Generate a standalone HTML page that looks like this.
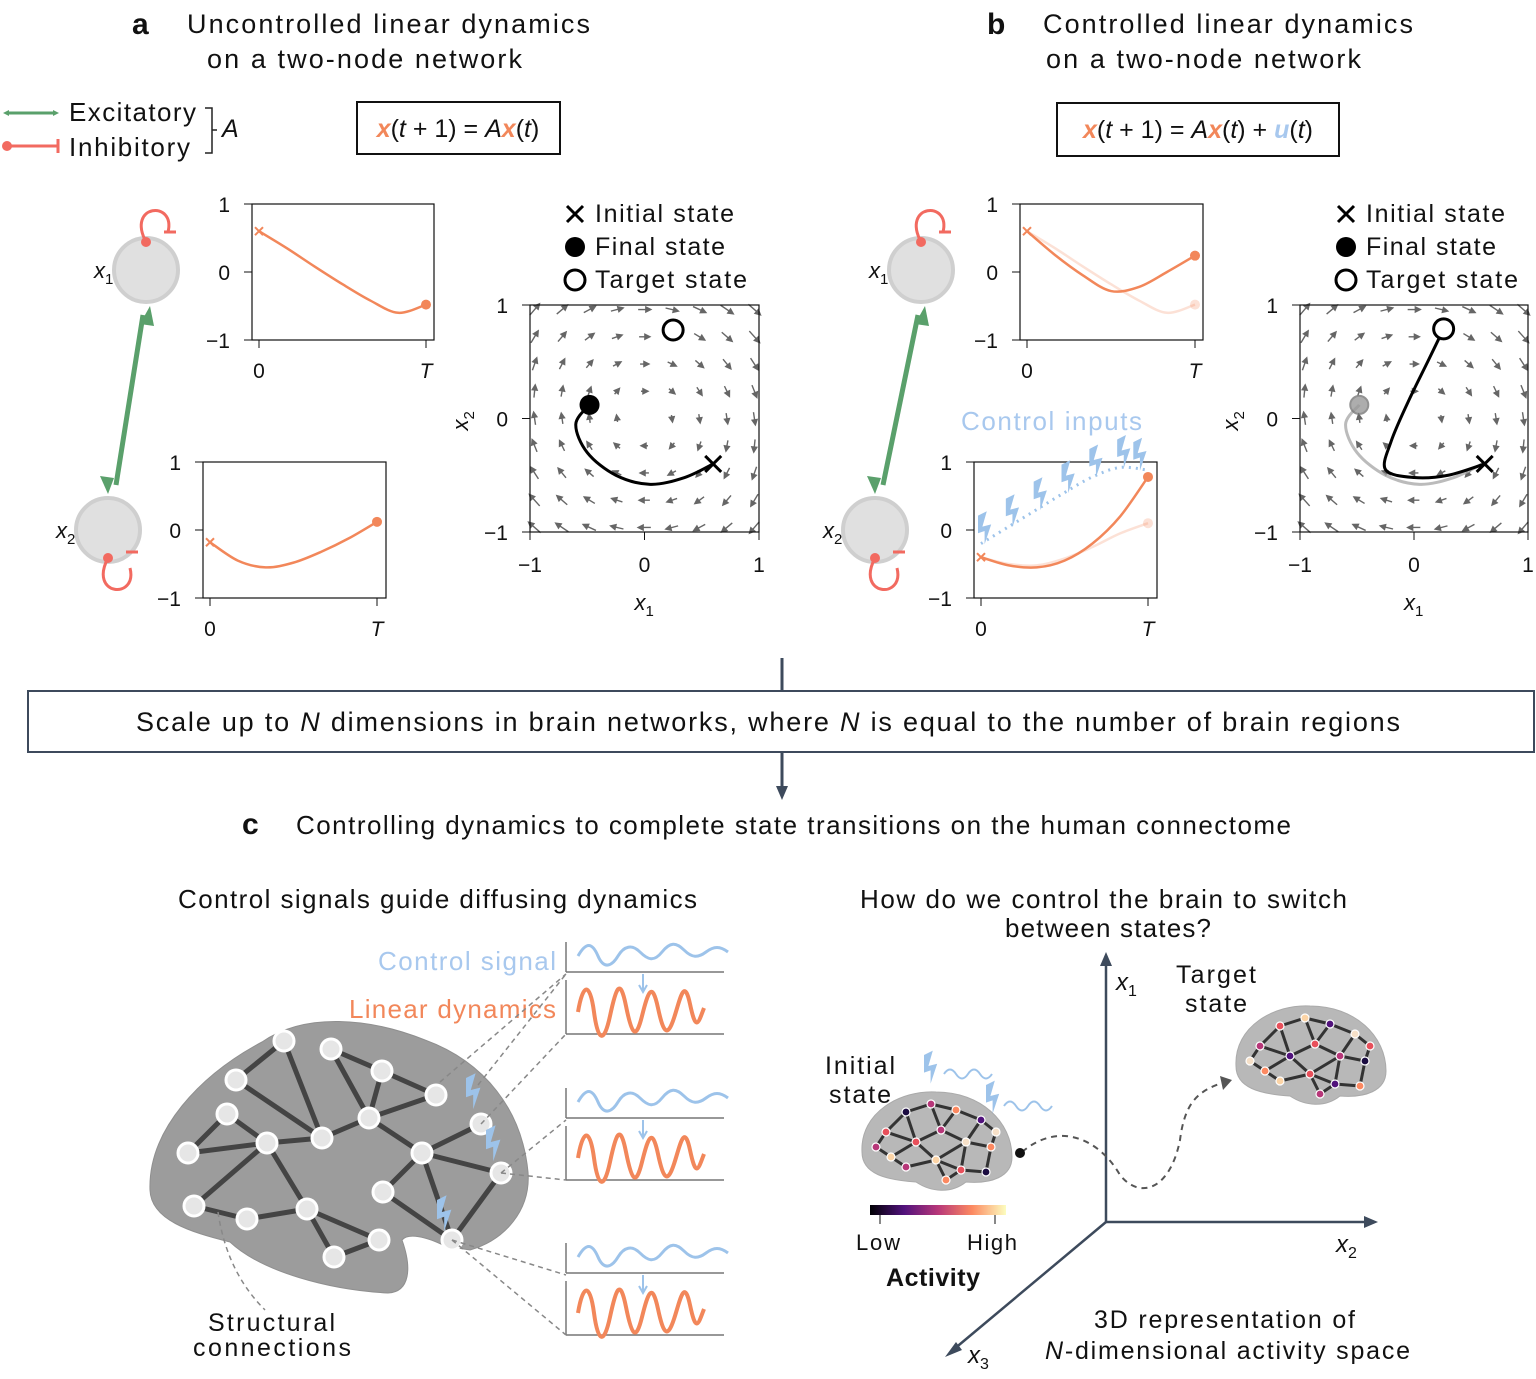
<!DOCTYPE html>
<html><head><meta charset="utf-8"><style>
html,body{margin:0;padding:0;background:#fff}
svg{display:block}
text{font-family:"Liberation Sans",sans-serif;fill:#111}
</style></head><body>
<svg id="fig" width="1536" height="1379" viewBox="0 0 1536 1379" xmlns="http://www.w3.org/2000/svg">
<defs>
<marker id="gh" markerWidth="6" markerHeight="6" refX="3" refY="3" orient="auto-start-reverse" markerUnits="userSpaceOnUse"><path d="M0,0 L6,3 L0,6 Z" fill="#5aa06b"/></marker>
<linearGradient id="magma" x1="0" x2="1"><stop offset="0" stop-color="#000004"/><stop offset="0.25" stop-color="#51127c"/><stop offset="0.5" stop-color="#b73779"/><stop offset="0.75" stop-color="#fc8961"/><stop offset="1" stop-color="#fcfdbf"/></linearGradient>
</defs>

<!-- Panel a header -->
<text x="132" y="34" font-size="30" font-weight="bold">a</text>
<text x="187" y="33" font-size="27" textLength="403">Uncontrolled linear dynamics</text>
<text x="207" y="68" font-size="27" textLength="315">on a two-node network</text>
<g>
<line x1="6" y1="113" x2="56" y2="113" stroke="#5aa06b" stroke-width="3" marker-start="url(#gh)" marker-end="url(#gh)"/>
<text x="69" y="121" font-size="26" textLength="127">Excitatory</text></g>
<g>
<line x1="6" y1="146" x2="58" y2="146" stroke="#f26a60" stroke-width="3"/><circle cx="7" cy="146" r="5" fill="#f26a60"/><line x1="58" y1="139" x2="58" y2="153" stroke="#f26a60" stroke-width="3"/>
<text x="69" y="156" font-size="26" textLength="121">Inhibitory</text></g>
<path d="M205,108 L212,108 L212,153 L205,153 M212,130 L217,130" stroke="#222" stroke-width="1.5" fill="none"/>
<text x="222" y="137" font-size="25" font-style="italic">A</text>
<g><rect x="357" y="102" width="203" height="52" fill="none" stroke="#111" stroke-width="2"/>
<text x="458" y="137" font-size="25" text-anchor="middle"><tspan fill="#f2875a" font-weight="bold" font-style="italic">x</tspan>(<tspan font-style="italic">t</tspan> + 1) = <tspan font-style="italic">A</tspan><tspan fill="#f2875a" font-weight="bold" font-style="italic">x</tspan>(<tspan font-style="italic">t</tspan>)</text></g>

<!-- Panel b header -->
<text x="987" y="34" font-size="30" font-weight="bold">b</text>
<text x="1043" y="33" font-size="27" textLength="370">Controlled linear dynamics</text>
<text x="1046" y="68" font-size="27" textLength="315">on a two-node network</text>
<g><rect x="1057" y="103" width="282" height="53" fill="none" stroke="#111" stroke-width="2"/>
<text x="1198" y="138" font-size="25" text-anchor="middle"><tspan fill="#f2875a" font-weight="bold" font-style="italic">x</tspan>(<tspan font-style="italic">t</tspan> + 1) = <tspan font-style="italic">A</tspan><tspan fill="#f2875a" font-weight="bold" font-style="italic">x</tspan>(<tspan font-style="italic">t</tspan>) + <tspan fill="#a8c8ee" font-weight="bold" font-style="italic">u</tspan>(<tspan font-style="italic">t</tspan>)</text></g>

<g id="nets"></g>
<g id="plots"></g>

<text x="961" y="430" font-size="26" textLength="181" style="fill:#a8c8ee">Control inputs</text>

<!-- Middle -->
<line x1="782" y1="658" x2="782" y2="691" stroke="#3d4a5c" stroke-width="3"/>
<g><rect x="28" y="691" width="1506" height="61" fill="none" stroke="#3d4a5c" stroke-width="2"/>
<text x="136" y="731" font-size="27" textLength="1264">Scale up to <tspan font-style="italic">N</tspan> dimensions in brain networks, where <tspan font-style="italic">N</tspan> is equal to the number of brain regions</text></g>
<line x1="782" y1="752" x2="782" y2="790" stroke="#3d4a5c" stroke-width="3"/>
<path d="M776,786 L782,800 L788,786 Z" fill="#3d4a5c"/>
<text x="242" y="834" font-size="30" font-weight="bold">c</text>
<text x="296" y="834" font-size="26" textLength="995">Controlling dynamics to complete state transitions on the human connectome</text>

<!-- Panel c left -->
<text x="178" y="908" font-size="26" textLength="519">Control signals guide diffusing dynamics</text>
<text x="378" y="970" font-size="26" textLength="178" style="fill:#a8c8ee">Control signal</text>
<text x="349" y="1018" font-size="26" textLength="207" style="fill:#f2875a">Linear dynamics</text>
<g id="brainL">
<path d="M150,1190 C148,1130 200,1075 262,1042 C305,1012 370,1018 425,1040 C485,1062 522,1110 528,1172 C531,1210 505,1240 470,1250 L445,1246 C425,1236 408,1233 402,1240 C412,1268 410,1292 388,1293 C330,1290 262,1272 230,1242 C190,1232 151,1220 150,1190 Z" fill="#9c9c9c" stroke="#8f8f8f"/>
</g>
<g id="signals"></g>
<text x="208" y="1331" font-size="25" textLength="127">Structural</text>
<text x="193" y="1356" font-size="25" textLength="158">connections</text>
<path d="M218,1212 C225,1260 245,1290 265,1310" stroke="#888" stroke-width="1.5" stroke-dasharray="5,4" fill="none"/>

<!-- Panel c right -->
<text x="860" y="908" font-size="26" textLength="487">How do we control the brain to switch</text>
<text x="1005" y="937" font-size="26" textLength="206">between states?</text>
<g stroke="#3d4a5c" stroke-width="2.5" fill="#3d4a5c">
<line x1="1106" y1="1222" x2="1106" y2="962"/><path d="M1100,966 L1106,952 L1112,966 Z" stroke="none"/>
<line x1="1106" y1="1222" x2="1368" y2="1222"/><path d="M1364,1216 L1378,1222 L1364,1228 Z" stroke="none"/>
<line x1="1106" y1="1222" x2="953" y2="1350"/><path d="M956,1342 L945,1357 L962,1350 Z" stroke="none"/>
</g>
<text x="1116" y="990" font-size="24" font-style="italic">x<tspan font-size="16" dy="6" font-style="normal">1</tspan></text>
<text x="1336" y="1252" font-size="24" font-style="italic">x<tspan font-size="16" dy="6" font-style="normal">2</tspan></text>
<text x="968" y="1363" font-size="24" font-style="italic">x<tspan font-size="16" dy="6" font-style="normal">3</tspan></text>
<text x="1216" y="983" font-size="25" text-anchor="middle" textLength="80">Target</text>
<text x="1216" y="1012" font-size="25" text-anchor="middle" textLength="62">state</text>
<text x="860" y="1074" font-size="25" text-anchor="middle" textLength="70">Initial</text>
<text x="860" y="1103" font-size="25" text-anchor="middle" textLength="62">state</text>
<path d="M1022,1152 C1060,1120 1100,1140 1120,1175 C1140,1200 1170,1190 1180,1140 C1185,1100 1200,1090 1225,1082" stroke="#555" stroke-width="2" stroke-dasharray="6,5" fill="none"/>
<path d="M1220,1076 L1232,1080 L1223,1090 Z" fill="#555"/>
<circle cx="1020" cy="1153" r="5" fill="#111"/>
<g id="brainsR"></g>
<g>
<rect x="870" y="1205" width="136" height="10" fill="url(#magma)"/>
<line x1="880" y1="1215" x2="880" y2="1224" stroke="#111"/><line x1="995" y1="1215" x2="995" y2="1224" stroke="#111"/>
<text x="878" y="1250" font-size="22" text-anchor="middle" textLength="44">Low</text>
<text x="992" y="1250" font-size="22" text-anchor="middle" textLength="50">High</text>
<text x="886" y="1286" font-size="25" font-weight="bold" textLength="94">Activity</text></g>
<text x="1094" y="1328" font-size="25" textLength="261">3D representation of</text>
<text x="1045" y="1359" font-size="25" textLength="365"><tspan font-style="italic">N</tspan>-dimensional activity space</text>
</svg>
<script>
// ---- data ----
const tSamples = [0, 1/6, 2/6, 3/6, 4/6, 5/6, 1];
const a_x1 = [0.6, 0.35, 0.08, -0.18, -0.42, -0.6, -0.48];
const a_x2 = [-0.18, -0.45, -0.55, -0.48, -0.32, -0.12, 0.12];
const b_x1 = [0.6, 0.25, -0.05, -0.28, -0.22, 0.0, 0.24];
const b_x2 = [-0.4, -0.52, -0.55, -0.45, -0.2, 0.2, 0.78];
const b_x2_uncontrolled = [-0.4, -0.5, -0.52, -0.42, -0.25, -0.05, 0.1];
const b_control = [-0.2, 0.05, 0.3, 0.55, 0.78, 0.92, 0.88];
const yTicks = [1, 0, -1];
const yTickLabels = ['1', '0', '\u22121'];
const phaseTicks = [-1, 0, 1];
const phaseTickLabels = ['\u22121', '0', '1'];
const trajA_x1 = [0.6, 0.35, 0.05, -0.25, -0.5, -0.6, -0.48];
const trajA_x2 = [-0.4, -0.52, -0.58, -0.5, -0.3, -0.05, 0.12];
const trajB_x1 = [0.62, 0.3, 0.0, -0.25, -0.2, -0.05, 0.12, 0.26];
const trajB_x2 = [-0.4, -0.5, -0.52, -0.45, -0.2, 0.15, 0.5, 0.79];
const targetA = [0.25, 0.78];
const targetB = [0.26, 0.79];

const NS = 'http://www.w3.org/2000/svg';
function mk(tag, attrs, parent) { const e = document.createElementNS(NS, tag); for (const k in attrs) e.setAttribute(k, attrs[k]); parent.appendChild(e); return e; }
function smooth(pts) {
  let d = 'M' + pts[0][0] + ',' + pts[0][1];
  for (let i = 0; i < pts.length - 1; i++) {
    const p0 = pts[Math.max(i - 1, 0)], p1 = pts[i], p2 = pts[i + 1], p3 = pts[Math.min(i + 2, pts.length - 1)];
    d += ' C' + (p1[0] + (p2[0] - p0[0]) / 6) + ',' + (p1[1] + (p2[1] - p0[1]) / 6) + ' ' + (p2[0] - (p3[0] - p1[0]) / 6) + ',' + (p2[1] - (p3[1] - p1[1]) / 6) + ' ' + p2[0] + ',' + p2[1];
  }
  return d;
}
const plots = document.getElementById('plots');

function timePlot(name, bx, by, bw, bh, x0, xT, series) {
  const g = mk('g', {}, plots);
  
  
  const ys = v => by + bh / 2 - v * bh / 2;
  const xs = t => x0 + t * (xT - x0);
  mk('rect', { x: bx, y: by, width: bw, height: bh, fill: 'none', stroke: '#111', 'stroke-width': 1.2 }, g);
  yTicks.forEach((v, i) => {
    mk('line', { x1: bx - 8, x2: bx, y1: ys(v), y2: ys(v), stroke: '#111' }, g);
    const t = mk('text', { x: bx - 22, y: ys(v) + 8, 'font-size': 21, 'text-anchor': 'end' }, g); t.textContent = yTickLabels[i];
  });
  [[0, '0', 'normal'], [1, 'T', 'italic']].forEach(([tv, lab, st]) => {
    mk('line', { x1: xs(tv), x2: xs(tv), y1: by + bh, y2: by + bh + 8, stroke: '#111' }, g);
    const t = mk('text', { x: xs(tv), y: by + bh + 38, 'font-size': 21, 'text-anchor': 'middle', 'font-style': st }, g); t.textContent = lab;
  });
  series.forEach(s => {
    const pts = tSamples.map((t, i) => [xs(t), ys(s.vals[i])]);
    const p = mk('path', { d: smooth(pts), fill: 'none', stroke: s.color, 'stroke-width': s.w || 2.5, opacity: s.op || 1 }, g);
    if (s.dash) p.setAttribute('stroke-dasharray', s.dash);
    
    
    if (s.marks) {
      const [sx, sy] = pts[0], [ex, ey] = pts[pts.length - 1];
      mk('path', { d: `M${sx - 4},${sy - 4}L${sx + 4},${sy + 4}M${sx - 4},${sy + 4}L${sx + 4},${sy - 4}`, stroke: s.color, 'stroke-width': 2, opacity: s.op || 1 }, g);
      mk('circle', { cx: ex, cy: ey, r: 5, fill: s.color, opacity: s.op || 1 }, g);
    }
  });
  return { xs, ys, g };
}
const OR = '#f2875a';
timePlot('plot-a-x1', 252, 204, 182, 136, 259, 426, [{ vals: a_x1, color: OR, marks: true, name: 'line-a-x1' }]);
timePlot('plot-a-x2', 203, 462, 183, 136, 210, 377, [{ vals: a_x2, color: OR, marks: true, name: 'line-a-x2' }]);
timePlot('plot-b-x1', 1020, 204, 183, 136, 1027, 1195, [
  { vals: a_x1, color: OR, op: 0.25, marks: true, name: 'line-b-x1-uncontrolled' },
  { vals: b_x1, color: OR, marks: true, name: 'line-b-x1' }]);
const pb2 = timePlot('plot-b-x2', 974, 462, 183, 136, 981, 1148, [
  { vals: b_x2_uncontrolled, color: OR, op: 0.25, marks: true, name: 'line-b-x2-uncontrolled' },
  { vals: b_control, color: '#9dc3ea', dash: '2,5', w: 3, name: 'control-input-line' },
  { vals: b_x2, color: OR, marks: true, name: 'line-b-x2' }]);
function bolt(x, y, s, parent, name) {
  const p = mk('path', { d: `M${x},${y} l${4*s},${-2*s} l${-2*s},${7*s} l${4*s},${-1*s} l${-3*s},${9*s} l${0},${-6*s} l${-3*s},${1*s} Z`, fill: '#9dc3ea' }, parent);
  
  
}
const boltT = [0, 1/6, 2/6, 3/6, 4/6, 5/6, 0.93];
boltT.forEach((t, i) => { const idx = Math.min(Math.round(t * 6), 6); bolt(pb2.xs(t) - 3, pb2.ys(b_control[idx]) - 28, 2.2, plots, 'control-bolt'); });

function phasePlot(name, bx, by, bw, bh, trajs, target, initial, finalPt) {
  const g = mk('g', {}, plots);
  
  
  const cx = bx + bw / 2, cy = by + bh / 2;
  const xs = v => cx + v * bw / 2, ys = v => cy - v * bh / 2;
  for (let i = 0; i < 9; i++) for (let j = 0; j < 9; j++) {
    const u = -0.96 + i * 0.24, v = -0.96 + j * 0.24;
    const dx = v + 0.15 * u, dy = -u;
    const m = Math.hypot(dx, dy); if (m < 0.01) continue;
    const L = Math.min(5 + m * 8, 16);
    const ux = dx / m, uy = -dy / m;
    const px = xs(u), py = ys(v);
    const x1 = px - ux * L / 2, y1 = py - uy * L / 2, x2 = px + ux * L / 2, y2 = py + uy * L / 2;
    const a = mk('path', { d: `M${x1},${y1}L${x2},${y2} M${x2},${y2} L${x2 - ux*5 - uy*2.5},${y2 - uy*5 + ux*2.5} L${x2 - ux*5 + uy*2.5},${y2 - uy*5 - ux*2.5} Z`, stroke: '#666', 'stroke-width': 1.4, fill: '#666' }, g);
    
    
  }
  mk('rect', { x: bx, y: by, width: bw, height: bh, fill: 'none', stroke: '#111', 'stroke-width': 1.2 }, g);
  phaseTicks.forEach((v, i) => {
    mk('line', { x1: bx - 8, x2: bx, y1: ys(v), y2: ys(v), stroke: '#111' }, g);
    let t = mk('text', { x: bx - 22, y: ys(v) + 8, 'font-size': 21, 'text-anchor': 'end' }, g); t.textContent = phaseTickLabels[i];
    mk('line', { x1: xs(v), x2: xs(v), y1: by + bh, y2: by + bh + 8, stroke: '#111' }, g);
    t = mk('text', { x: xs(v), y: by + bh + 40, 'font-size': 21, 'text-anchor': 'middle' }, g); t.textContent = phaseTickLabels[i];
  });
  let t = mk('text', { x: cx - 10, y: by + bh + 78, 'font-size': 22, 'font-style': 'italic' }, g); t.innerHTML = 'x<tspan font-size="15" dy="6" font-style="normal">1</tspan>';
  t = mk('text', { x: 0, y: 0, 'font-size': 22, 'font-style': 'italic', transform: `translate(${bx - 62},${cy + 12}) rotate(-90)` }, g); t.innerHTML = 'x<tspan font-size="15" dy="6" font-style="normal">2</tspan>';
  trajs.forEach(tr => {
    const pts = tr.x.map((v, i) => [xs(v), ys(tr.y[i])]);
    const p = mk('path', { d: smooth(pts), fill: 'none', stroke: tr.color, 'stroke-width': 3, opacity: tr.op || 1 }, g);
    
    
  });
  const sx = xs(initial[0]), sy = ys(initial[1]);
  mk('path', { d: `M${sx - 8},${sy - 8}L${sx + 8},${sy + 8}M${sx - 8},${sy + 8}L${sx + 8},${sy - 8}`, stroke: '#000', 'stroke-width': 3 }, g);
  mk('circle', { cx: xs(target[0]), cy: ys(target[1]), r: 10, fill: '#fff', stroke: '#000', 'stroke-width': 3 }, g);
  mk('circle', { cx: xs(finalPt[0]), cy: ys(finalPt[1]), r: finalPt[2] ? 9 : 10, fill: finalPt[2] ? '#999' : '#000', stroke: finalPt[2] ? '#777' : 'none', 'stroke-width': 2, opacity: finalPt[2] ? 0.8 : 1 }, g);
}
phasePlot('phase-plot-a', 530, 305, 229, 227, [{ x: trajA_x1, y: trajA_x2, color: '#000', name: 'trajectory-a' }], targetA, [trajA_x1[0], trajA_x2[0]], [trajA_x1[6], trajA_x2[6]]);
phasePlot('phase-plot-b', 1300, 305, 228, 227, [
  { x: trajA_x1, y: trajA_x2, color: '#aaa', op: 0.8, name: 'trajectory-b-uncontrolled' },
  { x: trajB_x1, y: trajB_x2, color: '#000', name: 'trajectory-b' }], targetB, [trajB_x1[0], trajB_x2[0]], [trajA_x1[6], trajA_x2[6], true]);

function stateLegend(x, y, name) {
  const g = mk('g', {}, plots);
  
  
  mk('path', { d: `M${x - 8},${y - 8}L${x + 8},${y + 8}M${x - 8},${y + 8}L${x + 8},${y - 8}`, stroke: '#000', 'stroke-width': 3 }, g);
  mk('circle', { cx: x, cy: y + 33, r: 10, fill: '#000' }, g);
  mk('circle', { cx: x, cy: y + 66, r: 10, fill: '#fff', stroke: '#000', 'stroke-width': 3 }, g);
  const lens = [139, 130, 152];
  ['Initial state', 'Final state', 'Target state'].forEach((s, i) => { const t = mk('text', { x: x + 20, y: y + 8 + i * 33, 'font-size': 25, textLength: lens[i] }, g); t.textContent = s; });
}
stateLegend(575, 214, 'state-legend-a');
stateLegend(1346, 214, 'state-legend-b');

const nets = document.getElementById('nets');
function net(ax, ay, bx2, by2, name) {
  const g = mk('g', {}, nets);
  
  
  mk('line', { x1: ax - 3, y1: ay + 45, x2: bx2 + 8, y2: by2 - 45, stroke: '#5aa06b', 'stroke-width': 5 }, g);
  mk('path', { d: `M${ax+4},${ay+36} l-10,18 l14,2 Z`, fill: '#5aa06b' }, g);
  mk('path', { d: `M${bx2},${by2-36} l-8,-18 l14,2 Z`, fill: '#5aa06b' }, g);
  [[ax, ay, -1, 'x1'], [bx2, by2, 1, 'x2']].forEach(([x, y, dir, lab]) => {
    const n = mk('circle', { cx: x, cy: y, r: 32, fill: '#e0e0e0', stroke: '#cfcfcf', 'stroke-width': 4 }, g);
    
    
    const ly = y + dir * 28;
    const ex = x + 20, ey = ly + dir * 2;
    mk('path', { d: `M${x},${ly} C${x-20},${ly + dir*38} ${x+30},${ly + dir*42} ${x+22},${ly + dir*10} M${ex-2},${ey - 8} L${ex+10},${ey - 8}`, fill: 'none', stroke: '#f26a60', 'stroke-width': 3 }, g);
    mk('circle', { cx: x, cy: ly, r: 5, fill: '#f26a60' }, g);
    const t = mk('text', { x: x - 52, y: y + 8, 'font-size': 22, 'font-style': 'italic' }, g); t.innerHTML = 'x<tspan font-size="15" dy="6" font-style="normal">' + lab[1] + '</tspan>';
  });
}
net(146, 270, 108, 530, 'two-node-network-a');
net(921, 270, 875, 530, 'two-node-network-b');

const brainNodes = [[284,1041],[331,1049],[236,1080],[382,1071],[436,1095],[227,1114],[369,1118],[322,1138],[267,1143],[481,1124],[188,1153],[422,1153],[501,1173],[383,1192],[194,1206],[247,1219],[307,1209],[379,1240],[334,1257],[452,1240]];
const brainEdges = [[0,2],[0,7],[2,7],[1,6],[1,3],[3,6],[3,4],[6,4],[7,6],[7,8],[5,8],[5,10],[10,8],[8,14],[8,16],[14,15],[15,16],[16,17],[16,18],[18,17],[6,11],[11,9],[11,12],[11,13],[11,19],[13,19],[12,19]];
const bl = document.getElementById('brainL');
brainEdges.forEach(([a, b]) => { const l = mk('line', { x1: brainNodes[a][0], y1: brainNodes[a][1], x2: brainNodes[b][0], y2: brainNodes[b][1], stroke: '#444', 'stroke-width': 5 }, bl);
    });
brainNodes.forEach(([x, y]) => { const c = mk('circle', { cx: x, cy: y, r: 10, fill: '#e6e6e6', stroke: '#fff', 'stroke-width': 3 }, bl);
    });
bolt(466, 1078, 2.4, bl, 'brain-bolt'); bolt(486, 1130, 2.4, bl, 'brain-bolt'); bolt(437, 1200, 2.4, bl, 'brain-bolt');

const sg = document.getElementById('signals');
const panelY = [942, 1088, 1243];
const blueWave = 'c8,-14 14,-14 20,0 s14,10 20,0 s14,-12 22,-4 s14,10 22,0 s14,-10 22,-2 s14,8 22,2 s14,-6 22,0';
const orWave = 'c5,-30 12,-30 16,0 s10,32 16,4 s10,-40 16,-10 s10,34 16,10 s10,-36 16,-8 s10,28 16,10 s10,-42 16,-14 s8,20 14,4';
panelY.forEach((y0, i) => {
  const g = mk('g', {}, sg);
  
  
  mk('line', { x1: 566, y1: y0, x2: 566, y2: y0 + 30, stroke: '#777', 'stroke-width': 1.5 }, g);
  mk('line', { x1: 566, y1: y0 + 30, x2: 724, y2: y0 + 30, stroke: '#777', 'stroke-width': 1.5 }, g);
  mk('line', { x1: 566, y1: y0 + 92, x2: 724, y2: y0 + 92, stroke: '#777', 'stroke-width': 1.5 }, g);
  mk('line', { x1: 566, y1: y0 + 38, x2: 566, y2: y0 + 92, stroke: '#777', 'stroke-width': 1.5 }, g);
  mk('path', { d: `M578,${y0 + 14} ${blueWave}`, fill: 'none', stroke: '#9dc3ea', 'stroke-width': 3 }, g);
  mk('path', { d: `M578,${y0 + 70} ${orWave}`, fill: 'none', stroke: '#f2875a', 'stroke-width': 4 }, g);
  mk('path', { d: `M643,${y0 + 32} L643,${y0 + 48} M639,${y0 + 43} L643,${y0 + 50} L647,${y0 + 43}`, fill: 'none', stroke: '#9dc3ea', 'stroke-width': 2 }, g);
});
const dashes = [[478,1085,566,974],[481,1124,566,1034],[501,1173,566,1120],[501,1173,566,1180],[452,1240,566,1275],[452,1240,566,1335],[440,1082,566,974]];
dashes.forEach(([a, b, c, d]) => { const l = mk('line', { x1: a, y1: b, x2: c, y2: d, stroke: '#888', 'stroke-width': 1.5, 'stroke-dasharray': '5,4' }, sg);
    });

const br = document.getElementById('brainsR');
const magma = ['#1b0c41', '#51127c', '#b73779', '#e8505b', '#fc8961', '#fcd4a6', '#f6e0c8'];
function smallBrain(cx, cy, name, colorIdx) {
  const g = mk('g', {}, br);
  
  
  mk('path', { d: `M${cx-74},${cy+10} C${cx-76},${cy-30} ${cx-35},${cy-52} ${cx},${cy-50} C${cx+45},${cy-50} ${cx+76},${cy-20} ${cx+76},${cy+15} C${cx+76},${cy+35} ${cx+55},${cy+42} ${cx+30},${cy+40} C${cx+15},${cy+52} ${cx-5},${cy+50} ${cx-20},${cy+40} C${cx-50},${cy+38} ${cx-74},${cy+32} ${cx-74},${cy+10} Z`, fill: '#b8b8b8', stroke: '#aaa' }, g);
  const pts = [[-50,-10],[-30,-30],[-5,-38],[20,-32],[45,-22],[-45,15],[-20,0],[5,-12],[30,0],[55,5],[-30,25],[0,18],[25,28],[50,30],[10,38],[-60,5],[60,-10]];
  const ed = [[0,1],[1,2],[2,3],[3,4],[0,6],[1,6],[6,7],[2,7],[7,3],[7,8],[8,4],[8,9],[5,6],[5,10],[10,11],[6,11],[11,8],[11,12],[12,8],[12,13],[9,13],[12,14],[14,11],[0,15],[15,5],[4,16],[16,9]];
  ed.forEach(([a, b]) => mk('line', { x1: cx + pts[a][0], y1: cy + pts[a][1], x2: cx + pts[b][0], y2: cy + pts[b][1], stroke: '#333', 'stroke-width': 3 }, g));
  pts.forEach((p, i) => mk('circle', { cx: cx + p[0], cy: cy + p[1], r: 4, fill: magma[colorIdx[i % colorIdx.length]], stroke: '#fff', 'stroke-width': 1.2 }, g));
}
smallBrain(936, 1142, 'initial-state-brain', [3,0,2,4,1,5,3,2,6,4,2,5,3,0,4,2,6]);
smallBrain(1310, 1056, 'target-state-brain', [2,3,5,1,6,4,1,3,2,0,5,3,1,4,2,6,3]);
bolt(924, 1055, 2.2, br, 'initial-bolt'); bolt(986, 1085, 2.2, br, 'initial-bolt');
mk('path', { d: 'M944,1074 c4,-6 8,-6 12,0 s8,6 12,0 s8,-6 12,0 s8,6 12,0', fill: 'none', stroke: '#9dc3ea', 'stroke-width': 2 }, br);
mk('path', { d: 'M1004,1106 c4,-6 8,-6 12,0 s8,6 12,0 s8,-6 12,0 s8,6 12,0', fill: 'none', stroke: '#9dc3ea', 'stroke-width': 2 }, br);
</script>
</body></html>
